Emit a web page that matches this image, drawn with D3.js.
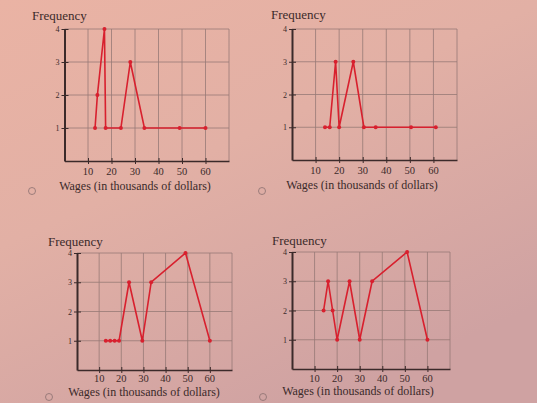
<!DOCTYPE html>
<html>
<head>
<meta charset="utf-8">
<script src="https://cdn.jsdelivr.net/npm/d3@7"></script>
<style>
  body { margin: 0; padding: 0; }
  svg { display: block; }
</style>
</head>
<body>
<script>
const xTicks = [10, 20, 30, 40, 50, 60];
const yTicks = [1, 2, 3, 4];
const gridX = [10, 20, 30, 40, 50, 60, 70];

const wagesA = [13, 14, 17, 17.5, 24, 28, 34, 49, 60];
const freqA  = [1, 2, 4, 1, 1, 3, 1, 1, 1];

const wagesB = [14, 16, 18.5, 20, 26, 30.5, 35.5, 50.5, 61];
const freqB  = [1, 1, 3, 1, 3, 1, 1, 1, 1];

const wagesC = [13, 15, 17, 19, 23.5, 29.5, 33.5, 49, 60];
const freqC  = [1, 1, 1, 1, 3, 1, 3, 4, 1];

const wagesD = [14, 16, 18, 20, 25.5, 30, 35.5, 51, 60];
const freqD  = [2, 3, 2, 1, 3, 1, 3, 4, 1];

const W = 537, H = 403;
const svg = d3.select("body").append("svg").attr("width", W).attr("height", H);

// photo-ish background
const defs = svg.append("defs");
const grad = defs.append("linearGradient").attr("id", "bg")
  .attr("x1", 0).attr("y1", 0).attr("x2", 0.6).attr("y2", 1);
grad.append("stop").attr("offset", "0%").attr("stop-color", "#eab3a4");
grad.append("stop").attr("offset", "45%").attr("stop-color", "#e2b0a5");
grad.append("stop").attr("offset", "100%").attr("stop-color", "#cfa2a2");
svg.append("rect").attr("width", W).attr("height", H).attr("fill", "url(#bg)");

const font = "'Liberation Serif', 'DejaVu Serif', serif";

const panels = [
  { wages: wagesA, freq: freqA, left: 64.5, right: 229, top: 29, bottom: 161, title: [32, 20], tickY: 175, label: [135, 190], radio: [32, 191] },
  { wages: wagesB, freq: freqB, left: 292, right: 457, top: 29, bottom: 160, title: [271, 19], tickY: 174, label: [362, 189], radio: [262, 191] },
  { wages: wagesC, freq: freqC, left: 77, right: 232, top: 253, bottom: 370, title: [48, 246], tickY: 382, label: [144, 396], radio: [49, 397] },
  { wages: wagesD, freq: freqD, left: 292, right: 450, top: 252, bottom: 369, title: [272, 245], tickY: 382, label: [358, 395], radio: [263, 397] }
];

panels.forEach(p => {
  const g = svg.append("g");

  const x = d3.scaleLinear().domain([0, 70]).range([p.left, p.right]);
  const y = d3.scaleLinear().domain([0, 4]).range([p.bottom, p.top]);

  // grid
  g.selectAll(".gx").data(gridX).enter().append("line")
    .attr("x1", d => x(d)).attr("x2", d => x(d))
    .attr("y1", y(4)).attr("y2", y(0))
    .attr("stroke", "#977a76").attr("stroke-width", 0.8);
  g.selectAll(".gy").data(yTicks).enter().append("line")
    .attr("x1", x(0)).attr("x2", x(70))
    .attr("y1", d => y(d)).attr("y2", d => y(d))
    .attr("stroke", "#977a76").attr("stroke-width", 0.8);

  // axes
  const xAxis = g.append("g")
    .attr("transform", `translate(0,${y(0)})`)
    .call(d3.axisBottom(x).tickValues(xTicks).tickSizeInner(4).tickSizeOuter(0).tickPadding(3));
  xAxis.selectAll(".tick line").attr("y1", -3).attr("y2", 3).attr("stroke", "#3b2a2a");
  xAxis.selectAll("text").remove();
  xAxis.select(".domain").attr("stroke", "#3b2a2a").attr("stroke-width", 1.6);

  const yAxis = g.append("g")
    .attr("transform", `translate(${x(0)},0)`)
    .call(d3.axisLeft(y).tickValues(yTicks).tickFormat(d3.format("d"))
      .tickSizeInner(3).tickSizeOuter(0).tickPadding(2));
  yAxis.selectAll(".tick line").attr("x1", -3).attr("x2", 4).attr("stroke", "#3b2a2a");
  yAxis.selectAll("text").attr("font-family", font).attr("font-size", 8).attr("fill", "#3b2a2a");
  yAxis.select(".domain").attr("stroke", "#3b2a2a").attr("stroke-width", 2);

  // x tick labels
  g.selectAll(".xl").data(xTicks).enter().append("text")
    .attr("x", d => x(d)).attr("y", p.tickY)
    .attr("text-anchor", "middle")
    .attr("font-family", font).attr("font-size", 10.5).attr("fill", "#3b2a2a")
    .text(d => d);

  // polygon
  const pts = p.wages.map((w, i) => [w, p.freq[i]]);
  g.append("path").datum(pts)
    .attr("fill", "none").attr("stroke", "#d8202e").attr("stroke-width", 1.6)
    .attr("d", d3.line().x(d => x(d[0])).y(d => y(d[1])));
  g.selectAll(".pt").data(pts).enter().append("circle")
    .attr("cx", d => x(d[0])).attr("cy", d => y(d[1])).attr("r", 2)
    .attr("fill", "#d8202e");

  // titles
  g.append("text").attr("x", p.title[0]).attr("y", p.title[1])
    .attr("font-family", font).attr("font-size", 13).attr("fill", "#3b2a2a")
    .text("Frequency");
  g.append("text").attr("x", p.label[0]).attr("y", p.label[1])
    .attr("text-anchor", "middle")
    .attr("font-family", font).attr("font-size", 12).attr("fill", "#3b2a2a")
    .text("Wages (in thousands of dollars)");

  // radio button
  g.append("circle").attr("cx", p.radio[0]).attr("cy", p.radio[1]).attr("r", 3.5)
    .attr("fill", "none").attr("stroke", "#8a7070").attr("stroke-width", 0.8);
});
</script>
</body>
</html>
